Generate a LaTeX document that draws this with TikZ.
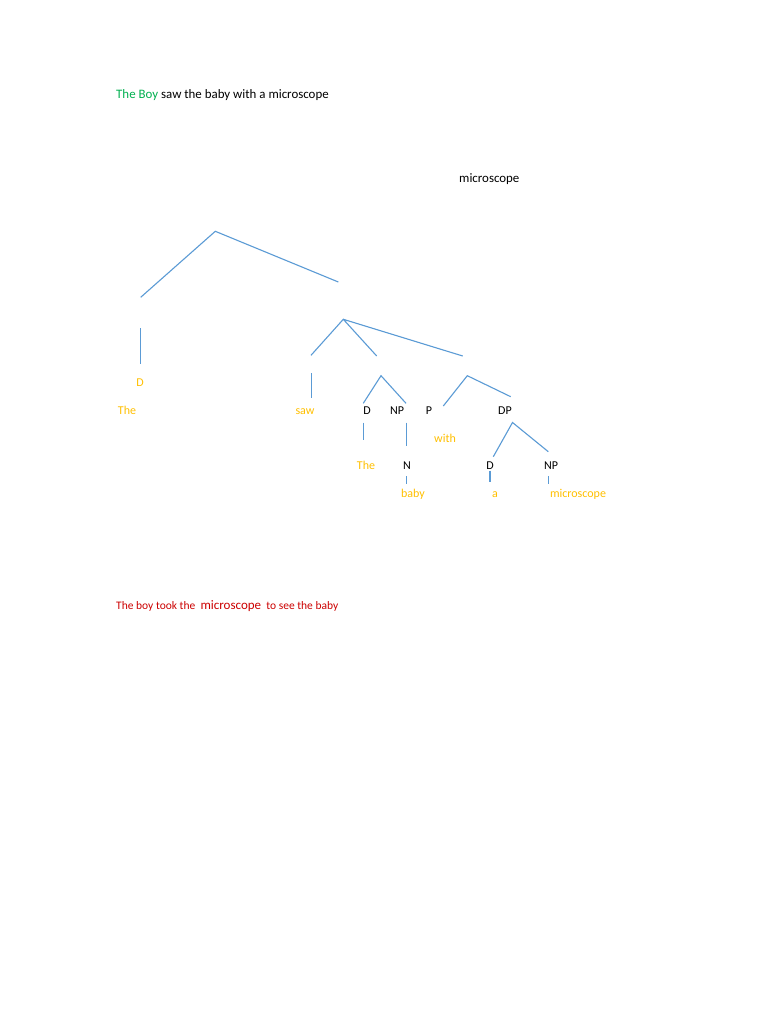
\documentclass[tikz,border=0pt]{standalone}
\usepackage{fontspec}
\setmainfont{Carlito}
\usepackage{tikz}
\definecolor{wordblue}{RGB}{91,155,213}
\definecolor{wordorange}{RGB}{255,192,0}
\definecolor{wordgreen}{RGB}{0,176,80}
\definecolor{wordred}{RGB}{204,0,0}

\begin{document}
\begin{tikzpicture}[x=1pt,y=-1pt,
    branch/.style={draw=wordblue,line width=1.1pt},
    word/.style={anchor=base,inner sep=0pt,text=wordorange,font=\fontsize{12}{14}\selectfont},
    cat/.style={anchor=base,inner sep=0pt,text=black,font=\fontsize{12}{14}\selectfont},
    sent/.style={anchor=base west,inner sep=0pt,font=\fontsize{12.9}{15}\selectfont}]
  \useasboundingbox[fill=white] (0,0) rectangle (768,1024);

  % sentences
  \node [sent] (title) at (116,99) {\textcolor{wordgreen}{The Boy} saw the baby with a microscope};
  \node [sent] (mic) at (459,183) {microscope};
  \node [sent,text=wordred,font=\fontsize{11.5}{13}\selectfont] (alt) at (116,609)
        {The boy took the\ \ {\fontsize{13}{15}\selectfont microscope}\ \ to see the baby};

  % tree labels
  \node [word] (d1)    at (140,386) {D};
  \node [word] (the1)  at (127,414) {The};
  \node [word] (saw)   at (305,414) {saw};
  \node [cat]  (d2)    at (367,414) {D};
  \node [cat]  (np1)   at (397,414) {NP};
  \node [cat]  (p)     at (429,414) {P};
  \node [cat]  (dp)    at (505,414) {DP};
  \node [word] (with)  at (445,442) {with};
  \node [word] (the2)  at (366,469) {The};
  \node [cat]  (n)     at (407,469) {N};
  \node [cat]  (d3)    at (490,469) {D};
  \node [cat]  (np2)   at (551,469) {NP};
  \node [word] (baby)  at (413,497) {baby};
  \node [word] (a)     at (495,497) {a};
  \node [word] (micro) at (578,497) {microscope};

  % branch points
  \coordinate (s)    at (215.3,231.3);
  \coordinate (sL)   at (140.7,297.3);
  \coordinate (sR)   at (338.3,282);
  \coordinate (vp)   at (343.3,319.3);
  \coordinate (vpA)  at (311,355.3);
  \coordinate (vpB)  at (376.7,356);
  \coordinate (vpC)  at (462.7,356);
  \coordinate (obj)  at (381,375.7);
  \coordinate (objA) at (363.3,403.3);
  \coordinate (objB) at (406,403.3);
  \coordinate (pp)   at (467.3,375.7);
  \coordinate (ppA)  at (443.3,406);
  \coordinate (ppB)  at (510.7,396.7);
  \coordinate (dpT)  at (512.5,422.5);
  \coordinate (dpA)  at (493.3,456.7);
  \coordinate (dpB)  at (548.3,451.7);

  \draw [branch] (sL) -- (s) -- (sR);
  \draw [branch] (vpA) -- (vp) -- (vpB) (vp) -- (vpC);
  \draw [branch] (objA) -- (obj) -- (objB);
  \draw [branch] (ppA) -- (pp) -- (ppB);
  \draw [branch] (dpA) -- (dpT) -- (dpB);

  % vertical strokes
  \foreach \x/\ya/\yb in {140.7/328.3/364.3, 311.3/373.3/398.3, 363.7/422.7/440,
                          406.7/422.7/446, 406.7/476/484, 490/470.7/481.7, 548.3/476/484}
    \draw [branch] (\x,\ya) -- (\x,\yb);
\end{tikzpicture}
\end{document}
